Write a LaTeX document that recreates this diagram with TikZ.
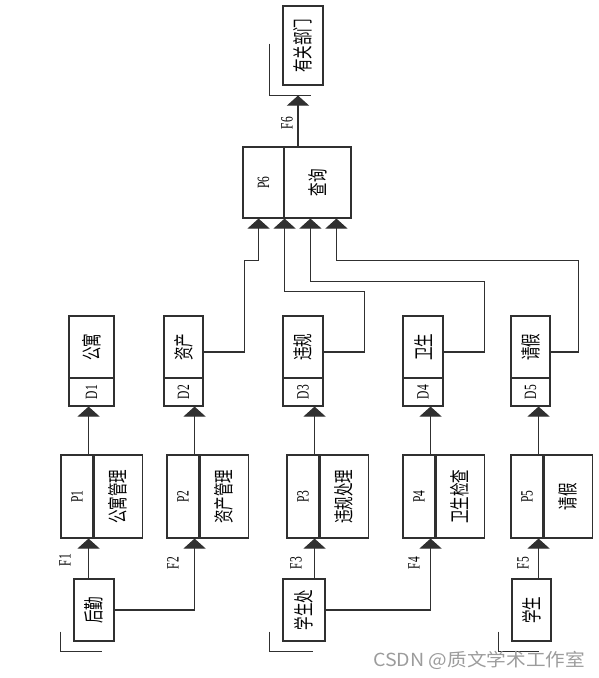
\documentclass[tikz,border=0pt]{standalone}
\usepackage{fontspec}
\usepackage{graphicx}
\setmainfont{Liberation Serif}
\newfontfamily\cjk{Noto Sans CJK SC}
\usetikzlibrary{arrows.meta}
\definecolor{lc}{HTML}{303030}
\definecolor{wm}{HTML}{9C9C9C}
\newcommand\vt[1]{\rotatebox{90}{\scalebox{1}[1.5]{#1}}}
\newcommand\zh[1]{\vt{\cjk\fontsize{13.5}{14}\selectfont #1}}
\newcommand\la[1]{\vt{\fontsize{11.5}{12}\selectfont #1}}
\begin{document}
\begin{tikzpicture}[x=1pt,y=-1pt,
  line/.style={draw=lc, line width=1.1pt},
  box/.style={line, rectangle, inner sep=0pt, text=black},
  arr/.style={line, arrows={-Triangle[width=22pt,length=10pt]}},
  txt/.style={inner sep=0pt, text=black}]
\useasboundingbox (0,0) rectangle (599,678);

% ---------- top entity and query process ----------
\node[box, minimum width=40pt, minimum height=79pt] (E6) at (303,45.5) {\zh{有关部门}};
\node[box, minimum width=41pt, minimum height=71pt] (P6l) at (263.5,182.5) {\la{P6}};
\node[box, minimum width=67pt, minimum height=71pt] (P6r) at (317.5,182.5) {\zh{查询}};
\draw[line] ([xshift=-13pt,yshift=42pt]E6.south west) |- ([xshift=-13pt,yshift=-10pt]E6.south east);
\coordinate (e6) at ([xshift=-5pt,yshift=-10pt]E6.south);
\draw[arr] (P6r.north -| e6) -- (e6);
\node[txt] (f6) at (287,123) {\la{F6}};

% ---------- data stores ----------
\foreach \n/\cx/\w/\t in {1/91.5/45/公寓, 2/183.5/39/资产, 3/303/40/违规, 4/423/40/卫生, 5/530.5/39/请假}{
  \node[box, minimum width=\w pt, minimum height=62pt] (D\n t) at (\cx,347) {\zh{\t}};
  \node[box, minimum width=\w pt, minimum height=28pt] (D\n b) at (\cx,392) {\la{D\n}};
}

% ---------- processes ----------
\foreach \n/\lx/\t in {1/77/公寓管理, 2/183/资产管理, 3/303/违规处理, 4/419/卫生检查, 5/527/请假}{
  \node[box, minimum width=32pt, minimum height=83pt] (P\n l) at (\lx,496.5) {\la{P\n}};
  \node[box, minimum width=48pt, minimum height=83pt, anchor=west] (P\n r) at (P\n l.east) {\zh{\t}};
  \coordinate (a\n) at ([xshift=-5pt]P\n l.south east);
  \coordinate (u\n) at ([xshift=-5pt]P\n l.north east);
  \draw[arr] (u\n) -- (u\n |- D\n b.south);
}

% ---------- external entities ----------
\node[box, minimum width=40pt, minimum height=62pt] (E1) at (94,610) {\zh{后勤}};
\node[box, minimum width=42pt, minimum height=62pt] (E3) at (304,610) {\zh{学生处}};
\node[box, minimum width=39pt, minimum height=62pt] (E5) at (531.5,610) {\zh{学生}};
\foreach \e in {E1,E3,E5}{
  \draw[line] ([xshift=-13pt,yshift=10pt]\e.south west) |- ([xshift=-13pt,yshift=-10pt]\e.south east);
}

% ---------- input flows ----------
\draw[arr] (a1 |- E1.north) -- (a1);
\draw[arr] (E1.east) -| (a2);
\draw[arr] (a3 |- E3.north) -- (a3);
\draw[arr] (E3.east) -| (a4);
\draw[arr] (a5 |- E5.north) -- (a5);
\node[txt] (f1) at (65,560) {\la{F1}};
\node[txt] (f2) at (173,563) {\la{F2}};
\node[txt] (f3) at (296,563) {\la{F3}};
\node[txt] (f4) at (414,563) {\la{F4}};
\node[txt] (f5) at (523,563) {\la{F5}};

% ---------- stores to query ----------
\coordinate (i2) at ([xshift=-26pt]P6l.south east);
\coordinate (i3) at (P6l.south east);
\coordinate (i4) at ([xshift=27pt]P6r.south west);
\coordinate (i5) at ([xshift=53pt]P6r.south west);
\draw[arr] ([yshift=-5pt]D2t.east) -- ++(41,0) |- ([yshift=-42pt]i2) -- (i2);
\draw[arr] ([yshift=-5pt]D3t.east) -- ++(41,0) |- ([yshift=-73pt]i3) -- (i3);
\draw[arr] ([yshift=-5pt]D4t.east) -- ++(41,0) |- ([yshift=-63pt]i4) -- (i4);
\draw[arr] ([yshift=-5pt]D5t.east) -- ++(28,0) |- ([yshift=-42pt]i5) -- (i5);

% ---------- watermark ----------
\node[inner sep=0pt, text=wm, anchor=west] (wmk) at (373,660) {\scalebox{1.09}[1]{\cjk\fontsize{18}{18}\selectfont CSDN @质文学术工作室}};
\end{tikzpicture}
\end{document}
